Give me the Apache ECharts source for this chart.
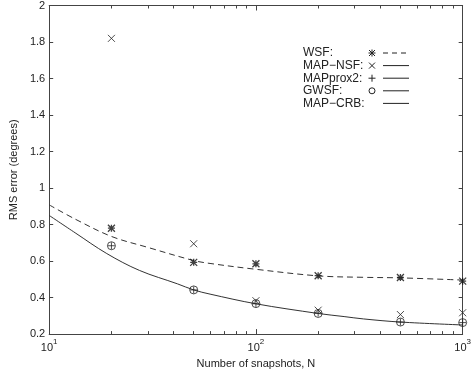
<!DOCTYPE html>
<html>
<head>
<meta charset="utf-8">
<script src="https://cdn.jsdelivr.net/npm/echarts@6/dist/echarts.min.js"></script>
<style>
html,body{margin:0;padding:0;background:#fff;}
#c{width:474px;height:374px;}
</style>
</head>
<body>
<div id="c"></div>
<script>
// ---- data ----
const snapshots = [20, 50, 100, 200, 500, 1000];
const wsf = [0.78, 0.593, 0.585, 0.52, 0.51, 0.49];
const mapNsf = [1.82, 0.695, 0.383, 0.331, 0.307, 0.317];
const mapProx2 = [0.684, 0.442, 0.366, 0.315, 0.266, 0.263];
const gwsf = [0.684, 0.442, 0.367, 0.313, 0.266, 0.263];
const wsfCurveN = [10, 13.35, 20, 30, 50, 60, 100, 200, 332, 500, 1000];
const wsfCurve = [0.908, 0.83, 0.735, 0.675, 0.603, 0.587, 0.555, 0.519, 0.511, 0.508, 0.496];
const crbCurveN = [10, 13.35, 19, 27.3, 41.8, 50, 60, 100, 200, 267, 332, 500, 1000];
const crbCurve = [0.85, 0.755, 0.641, 0.549, 0.475, 0.442, 0.419, 0.366, 0.313, 0.296, 0.283, 0.266, 0.25];
const xMajor = [10, 100, 1000];
const xMinor = [20, 30, 40, 50, 60, 70, 80, 90, 200, 300, 400, 500, 600, 700, 800, 900];
const legendNames = ['WSF:', 'MAP\u2212NSF:', 'MAPprox2:', 'GWSF:', 'MAP\u2212CRB:'];
const xTitle = 'Number of snapshots, N';
const yTitle = 'RMS error (degrees)';

const ink = '#222';
const axisInk = '#444';
const font = 'Liberation Sans, Arial, Helvetica, sans-serif';

const SYM_STAR = 'path://M0 0L10 10M10 0L0 10M5 0L5 10M0 5L10 5';
const SYM_X = 'path://M0 0L10 10M10 0L0 10';
const SYM_PLUS = 'path://M5 0L5 10M0 5L10 5';

function pairs(xs, ys) { return xs.map((x, i) => [x, ys[i]]); }

const chart = echarts.init(document.getElementById('c'), null, {renderer: 'canvas'});

function xAxisBase(pos, extra) {
  return Object.assign({
    type: 'log', logBase: 10, min: 10, max: 1000, position: pos,
    axisLine: {show: true, onZero: false, lineStyle: {color: axisInk, width: 1}},
    splitLine: {show: false},
    axisLabel: {show: false},
    axisTick: {show: false}
  }, extra);
}

// legend built with graphic elements (text, marker, line sample)
const legX = 303, legY0 = 53, legDy = 12.6, mX = 372, l0 = 383, l1 = 409;
const legendGraphics = [];
const markerShapes = ['star', 'x', 'plus', 'circle', null];
function seg(x1, y1, x2, y2, w) {
  return {type: 'line', shape: {x1: x1, y1: y1, x2: x2, y2: y2}, style: {stroke: ink, lineWidth: w || 1}};
}
legendNames.forEach((name, i) => {
  const y = legY0 + i * legDy;
  legendGraphics.push({type: 'text', x: legX, y: y, style: {text: name, font: '12px ' + font, fill: ink, textVerticalAlign: 'middle', textAlign: 'left', verticalAlign: 'middle', align: 'left'}});
  const m = markerShapes[i];
  if (m === 'star' || m === 'x') {
    legendGraphics.push(seg(mX - 3, y - 3, mX + 3, y + 3));
    legendGraphics.push(seg(mX + 3, y - 3, mX - 3, y + 3));
  }
  if (m === 'star' || m === 'plus') {
    legendGraphics.push(seg(mX, y - 3.5, mX, y + 3.5));
    legendGraphics.push(seg(mX - 3.5, y, mX + 3.5, y));
  }
  if (m === 'circle') legendGraphics.push({type: 'circle', shape: {cx: mX, cy: y, r: 3}, style: {stroke: ink, lineWidth: 1, fill: 'rgba(0,0,0,0)'}});
  legendGraphics.push({type: 'line', shape: {x1: l0, y1: y, x2: l1, y2: y}, style: {stroke: ink, lineWidth: 1, lineDash: i === 0 ? [5, 4] : null}});
});

const option = {
  backgroundColor: '#fff',
  animation: false,
  textStyle: {fontFamily: font},
  grid: {left: 33, right: 11, top: 5, bottom: 34, containLabel: false},
  xAxis: [
    xAxisBase('bottom', {
      name: xTitle, nameLocation: 'middle', nameGap: 21,
      nameTextStyle: {color: ink, fontSize: 11, fontFamily: font},
      axisTick: {show: true, inside: true, length: 5, customValues: xMajor, lineStyle: {color: axisInk}},
      axisLabel: {show: true, customValues: xMajor, margin: 4, color: ink,
        formatter: function (v) { return '{b|10}{s|' + Math.round(Math.log10(v)) + '}'; },
        rich: {b: {fontSize: 11, fontFamily: font, color: ink, verticalAlign: 'bottom', lineHeight: 15},
               s: {fontSize: 8, fontFamily: font, color: ink, verticalAlign: 'top', lineHeight: 8}}}
    }),
    xAxisBase('bottom', {axisLine: {show: false}, axisTick: {show: true, inside: true, length: 3, customValues: xMinor, lineStyle: {color: axisInk}}}),
    xAxisBase('top', {axisTick: {show: true, inside: true, length: 5, customValues: xMajor, lineStyle: {color: axisInk}}}),
    xAxisBase('top', {axisLine: {show: false}, axisTick: {show: true, inside: true, length: 3, customValues: xMinor, lineStyle: {color: axisInk}}})
  ],
  yAxis: [
    {
      type: 'value', min: 0.2, max: 2, interval: 0.2, position: 'left',
      name: yTitle, nameLocation: 'middle', nameGap: 24,
      nameTextStyle: {color: ink, fontSize: 11, fontFamily: font},
      axisLine: {show: true, lineStyle: {color: axisInk}},
      axisTick: {show: true, inside: true, length: 4, lineStyle: {color: axisInk}},
      axisLabel: {show: true, color: ink, fontSize: 11, margin: 4, fontFamily: font},
      splitLine: {show: false}
    },
    {
      type: 'value', min: 0.2, max: 2, interval: 0.2, position: 'right',
      axisLine: {show: true, lineStyle: {color: axisInk}},
      axisTick: {show: true, inside: true, length: 4, lineStyle: {color: axisInk}},
      axisLabel: {show: false},
      splitLine: {show: false}
    }
  ],
  graphic: legendGraphics,
  series: [
    {name: 'WSF theory', type: 'line', xAxisIndex: 0, yAxisIndex: 0, data: pairs(wsfCurveN, wsfCurve),
     smooth: 0.35, showSymbol: false, symbol: 'none', lineStyle: {color: '#333', width: 1, type: [6, 4]}, z: 2},
    {name: 'MAP-CRB', type: 'line', xAxisIndex: 0, yAxisIndex: 0, data: pairs(crbCurveN, crbCurve),
     smooth: 0.35, showSymbol: false, symbol: 'none', lineStyle: {color: '#333', width: 1}, z: 2},
    {name: 'WSF', type: 'scatter', data: pairs(snapshots, wsf), symbol: SYM_STAR, symbolSize: 7,
     itemStyle: {color: 'rgba(0,0,0,0)', borderColor: '#111', borderWidth: 1.3}, z: 3},
    {name: 'MAP-NSF', type: 'scatter', data: pairs(snapshots, mapNsf), symbol: SYM_X, symbolSize: 7,
     itemStyle: {color: 'rgba(0,0,0,0)', borderColor: ink, borderWidth: 1}, z: 3},
    {name: 'MAPprox2', type: 'scatter', data: pairs(snapshots, mapProx2), symbol: SYM_PLUS, symbolSize: 7,
     itemStyle: {color: 'rgba(0,0,0,0)', borderColor: ink, borderWidth: 1}, z: 3},
    {name: 'GWSF', type: 'scatter', data: pairs(snapshots, gwsf), symbol: 'circle', symbolSize: 8,
     itemStyle: {color: 'rgba(0,0,0,0)', borderColor: ink, borderWidth: 1}, z: 3}
  ]
};
chart.setOption(option);
</script>
</body>
</html>
